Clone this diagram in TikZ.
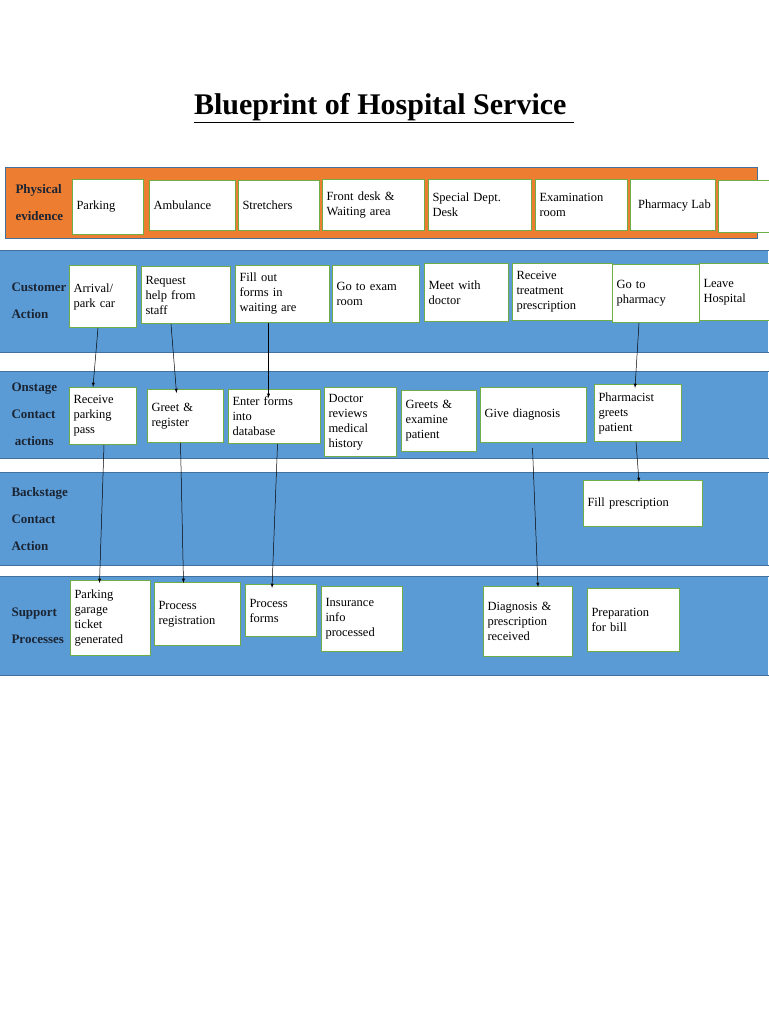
\documentclass[tikz,border=0pt]{standalone}
\usepackage{fontspec}
\setmainfont{Liberation Serif}
\begin{document}
\begin{tikzpicture}[x=1pt,y=-1pt,
 band/.style={draw=bandline,line width=1pt},
 bx/.style={draw=boxline,fill=white,line width=1pt,anchor=north west,align=left,inner sep=4pt,font=\fontsize{12.5}{15}\selectfont},
 lab/.style={anchor=west,align=left,font=\fontsize{13}{27}\selectfont\bfseries,text=labtext},
 arr/.style={-latex,black,line width=0.5pt}]
\definecolor{orangeband}{HTML}{ED7D31}
\definecolor{blueband}{HTML}{5B9BD5}
\definecolor{bandline}{HTML}{41719C}
\definecolor{boxline}{HTML}{70AD47}
\definecolor{labtext}{HTML}{1A2433}
\useasboundingbox (0,0) rectangle (768,1024);
\node (title) at (384,108) {\fontsize{30}{34}\selectfont\bfseries\underline{Blueprint of Hospital Service\ }};
\fill[orangeband] (5,168) rectangle (757,238); \draw[band] (5,168) rectangle (757,238);
\foreach \a/\b in {250/352,371/458,472/565,576/675}{
 \fill[blueband] (0,\a) rectangle (768,\b); \draw[band] (-2,\a) rectangle (770,\b);}
\node[lab] (l1) at (12,203) {Physical\\evidence};
\node[lab] (l2) at (8,301) {Customer\\Action};
\node[lab] (l3) at (8,414) {Onstage\\Contact\\\ actions};
\node[lab] (l4) at (8,519) {Backstage\\Contact\\Action};
\node[lab] (l5) at (8,626) {Support\\Processes};
\newcommand{\bxn}[6]{\node[bx,text width=#4-#2-8pt,minimum height=#5-#3,minimum width=#4-#2] (#1) at (#2,#3) {#6};}
% physical
\bxn{p1}{72}{179}{143}{234}{Parking}
\bxn{p2}{149}{180}{235}{230}{Ambulance}
\bxn{p3}{238}{180}{319}{230}{Stretchers}
\bxn{p4}{322}{179}{424}{230}{\fontsize{12.5}{25}\selectfont Front desk \&\\Waiting area}
\bxn{p5}{428}{179}{531}{230}{Special Dept.\\Desk}
\bxn{p6}{535}{179}{627}{230}{Examination\\room}
\bxn{p7}{630}{179}{715}{230}{}
\bxn{p8}{718}{180}{790}{232}{}
\node[anchor=west,font=\fontsize{12.5}{15}\selectfont,inner sep=0] (p7t) at (638,206) {Pharmacy Lab};
% customer
\bxn{c1}{69}{265}{136}{327}{Arrival/\\park car}
\bxn{c2}{141}{266}{230}{323}{Request\\help from\\staff}
\bxn{c3}{235}{265}{329}{322}{Fill out\\forms in\\waiting are}
\bxn{c4}{332}{265}{419}{322}{Go to exam\\room}
\bxn{c5}{424}{263}{508}{321}{Meet with\\doctor}
\bxn{c6}{512}{263}{612}{320}{Receive\\treatment\\prescription}
\bxn{c7}{612}{264}{699}{322}{Go to\\pharmacy}
\bxn{c8}{699}{263}{790}{320}{\fontsize{12.5}{22}\selectfont Leave\\Hospital}
% onstage
\bxn{o1}{69}{387}{136}{444}{Receive\\parking\\pass}
\bxn{o2}{147}{389}{223}{442}{Greet \&\\register}
\bxn{o3}{228}{389}{320}{443}{Enter forms\\into\\database}
\bxn{o4}{324}{387}{396}{456}{Doctor\\reviews\\medical\\history}
\bxn{o5}{401}{390}{476}{451}{Greets \&\\examine\\patient}
\bxn{o6}{480}{387}{586}{442}{Give diagnosis}
\bxn{o7}{594}{384}{681}{441}{Pharmacist\\greets\\patient}
% backstage
\bxn{b1}{583}{480}{702}{526}{Fill prescription}
% support
\bxn{s1}{70}{580}{150}{655}{Parking\\garage\\ticket\\generated}
\bxn{s2}{154}{582}{240}{645}{Process\\registration}
\bxn{s3}{245}{584}{316}{636}{Process\\forms}
\bxn{s4}{321}{586}{402}{651}{Insurance\\info\\processed}
\bxn{s5}{483}{586}{572}{656}{Diagnosis \&\\prescription\\received}
\bxn{s6}{587}{588}{679}{651}{Preparation\\for bill}
% arrows
\draw[arr] ([xshift=-5pt]c1.south) -- ([xshift=-10pt]o1.north);
\draw[arr] ([xshift=-15pt]c2.south) -- ([xshift=-9pt,yshift=-4pt]o2.north);
\draw[arr] ([xshift=-14pt]c3.south) -- ([xshift=-6pt,yshift=-9pt]o3.north);
\draw[arr] ([xshift=-17pt]c7.south) -- ([xshift=-3pt,yshift=-4pt]o7.north);
\draw[arr] ([xshift=1pt]o1.south) -- ([xshift=-11pt,yshift=-3pt]s1.north);
\draw[arr] ([xshift=-5pt]o2.south) -- ([xshift=-14pt,yshift=-1pt]s2.north);
\draw[arr] ([xshift=3pt]o3.south) -- ([xshift=-9pt,yshift=-4pt]s3.north);
\draw[arr] ([xshift=-1pt,yshift=-5pt]o6.south) -- ([xshift=10pt,yshift=-1pt]s5.north);
\draw[arr] ([xshift=-2pt]o7.south) -- ([xshift=-4pt,yshift=-2pt]b1.north);
\end{tikzpicture}
\end{document}
